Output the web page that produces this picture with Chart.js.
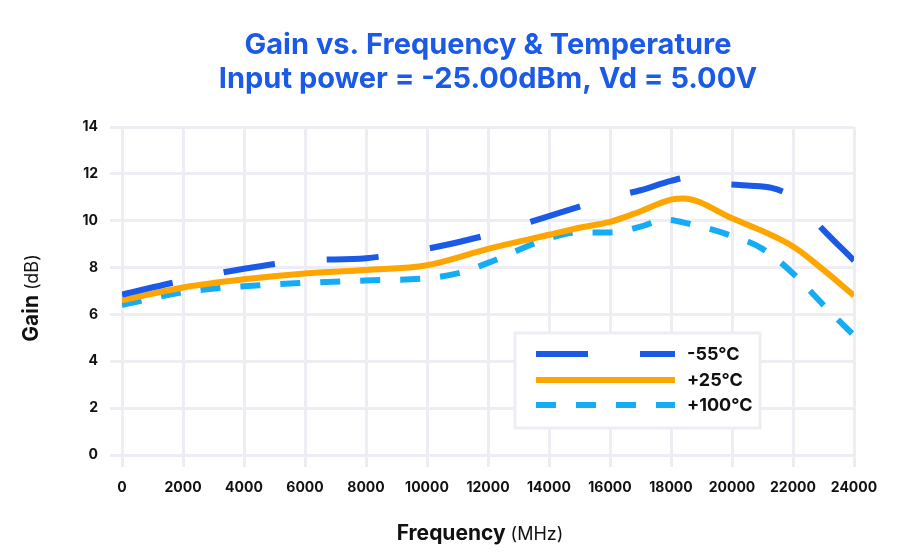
<!DOCTYPE html>
<html>
<head>
<meta charset="utf-8">
<script src="https://cdn.jsdelivr.net/npm/chart.js@4"></script>
<style>
  html, body { margin: 0; padding: 0; background: #fff; }
  #wrap { width: 901px; height: 552px; }
</style>
</head>
<body>
<div id="wrap"><canvas id="gainChart" width="901" height="552"></canvas></div>
<script>
/* ---- data ---- */
const titleLines = ['Gain vs. Frequency & Temperature', 'Input power = -25.00dBm, Vd = 5.00V'];
const seriesLabels = ['-55\u00B0C', '+25\u00B0C', '+100\u00B0C'];

const freqCold = [0, 2000, 4000, 6000, 8000, 10000, 12000, 14000, 15000, 16000, 17000, 18000, 18600, 19500, 20500, 21300, 22000, 23000, 24000];
const gainCold = [6.85, 7.45, 7.95, 8.3, 8.4, 8.8, 9.4, 10.2, 10.6, 11.0, 11.3, 11.7, 11.85, 11.6, 11.5, 11.4, 11.0, 9.6, 8.3];

const freqRoom = [0, 2000, 4000, 6000, 8000, 10000, 12000, 14000, 15000, 16000, 16800, 18000, 18400, 20000, 22000, 23000, 24000];
const gainRoom = [6.6, 7.15, 7.5, 7.75, 7.9, 8.1, 8.8, 9.4, 9.7, 9.95, 10.3, 10.9, 10.95, 10.1, 8.9, 7.9, 6.8];

const freqHot = [0, 2000, 4000, 6000, 8000, 10000, 11000, 12000, 14000, 15000, 16000, 17000, 17800, 18500, 20000, 21000, 22000, 23000, 24000];
const gainHot = [6.4, 6.95, 7.2, 7.35, 7.45, 7.55, 7.75, 8.2, 9.25, 9.5, 9.5, 9.75, 10.05, 9.9, 9.35, 8.8, 7.75, 6.4, 5.1];

const xTicks = [0, 2000, 4000, 6000, 8000, 10000, 12000, 14000, 16000, 18000, 20000, 22000, 24000];
const yTicks = [0, 2, 4, 6, 8, 10, 12, 14];

const COLORS = { cold: '#1a5ae6', room: '#ffa500', hot: '#14acf5', grid: '#ededf3', text: '#111111', title: '#1a5ae6' };
const FONT = 'Inter, "Open Sans", "DejaVu Sans", sans-serif';

function pts(xs, ys) { return xs.map((x, i) => ({ x, y: ys[i] })); }

/* titles, axis titles with mixed weights and the boxed legend */
const decor = {
  id: 'decor',
  afterDraw(chart) {
    const { ctx, chartArea: a } = chart;
    ctx.save();
    // main title
    ctx.fillStyle = COLORS.title;
    ctx.textAlign = 'center';
    ctx.textBaseline = 'middle';
    ctx.font = 'bold 29px ' + FONT;
    const cx = (a.left + a.right) / 2;
    ctx.fillText(titleLines[0], cx, 45);
    ctx.fillText(titleLines[1], cx, 79);

    // x title
    ctx.fillStyle = COLORS.text;
    ctx.textAlign = 'left';
    ctx.font = 'bold 21px ' + FONT;
    const w1 = ctx.measureText('Frequency ').width;
    ctx.font = '18px ' + FONT;
    const w2 = ctx.measureText('(MHz)').width;
    let x0 = 480 - (w1 + w2) / 2;
    ctx.font = 'bold 21px ' + FONT;
    ctx.fillText('Frequency', x0, 534);
    ctx.font = '18px ' + FONT;
    ctx.fillText('(MHz)', x0 + w1, 535);

    // y title
    ctx.save();
    ctx.translate(32, 298);
    ctx.rotate(-Math.PI / 2);
    ctx.font = 'bold 21px ' + FONT;
    const g1 = ctx.measureText('Gain ').width;
    ctx.font = '18px ' + FONT;
    const g2 = ctx.measureText('(dB)').width;
    const y0 = -(g1 + g2) / 2;
    ctx.font = 'bold 21px ' + FONT;
    ctx.fillText('Gain', y0, 0);
    ctx.font = '18px ' + FONT;
    ctx.fillText('(dB)', y0 + g1, 1);
    ctx.restore();

    // legend box
    const bx = 515, by = 333, bw = 245, bh = 95;
    ctx.fillStyle = '#ffffff';
    ctx.fillRect(bx, by, bw, bh);
    ctx.strokeStyle = COLORS.grid;
    ctx.lineWidth = 3;
    ctx.strokeRect(bx, by, bw, bh);
    const rows = [354, 380, 405];
    chart.data.datasets.forEach((ds, i) => {
      ctx.beginPath();
      ctx.strokeStyle = ds.borderColor;
      ctx.lineWidth = ds.borderWidth;
      ctx.setLineDash(ds.borderDash || []);
      ctx.moveTo(536, rows[i]);
      ctx.lineTo(675, rows[i]);
      ctx.stroke();
      ctx.setLineDash([]);
      ctx.fillStyle = COLORS.text;
      ctx.font = 'bold 18px ' + FONT;
      ctx.textAlign = 'left';
      ctx.fillText(ds.label, 687, rows[i] + 1);
    });
    ctx.restore();
  }
};

new Chart(document.getElementById('gainChart'), {
  type: 'line',
  data: {
    datasets: [
      { label: seriesLabels[0], data: pts(freqCold, gainCold), borderColor: COLORS.cold, borderWidth: 6, borderDash: [52, 52], borderCapStyle: 'butt' },
      { label: seriesLabels[1], data: pts(freqRoom, gainRoom), borderColor: COLORS.room, borderWidth: 6 },
      { label: seriesLabels[2], data: pts(freqHot, gainHot), borderColor: COLORS.hot, borderWidth: 6, borderDash: [20, 20], borderCapStyle: 'butt' }
    ].map(d => Object.assign({ fill: false, pointRadius: 0, tension: 0.4, cubicInterpolationMode: 'monotone' }, d))
  },
  options: {
    responsive: false,
    animation: false,
    layout: { padding: { top: 127, right: 47, bottom: 0, left: 0 } },
    plugins: { legend: { display: false }, title: { display: false }, tooltip: { enabled: false } },
    scales: {
      x: {
        type: 'linear', min: 0, max: 24000,
        afterBuildTicks: s => { s.ticks = xTicks.map(v => ({ value: v })); },
        afterFit: s => { s.height = 97; },
        grid: { color: COLORS.grid, lineWidth: 3, tickLength: 12, drawOnChartArea: true },
        border: { display: false },
        ticks: { color: COLORS.text, font: { family: FONT, weight: 'bold', size: 14 }, padding: 12, maxRotation: 0, autoSkip: false, callback: v => String(v) }
      },
      y: {
        min: 0, max: 14,
        afterBuildTicks: s => { s.ticks = yTicks.map(v => ({ value: v })); },
        afterFit: s => { s.width = 122; },
        grid: { color: COLORS.grid, lineWidth: 3, tickLength: 12 },
        border: { display: false },
        ticks: { color: COLORS.text, font: { family: FONT, weight: 'bold', size: 14 }, padding: 12, callback: v => String(v) }
      }
    }
  },
  plugins: [decor]
});
</script>
</body>
</html>
